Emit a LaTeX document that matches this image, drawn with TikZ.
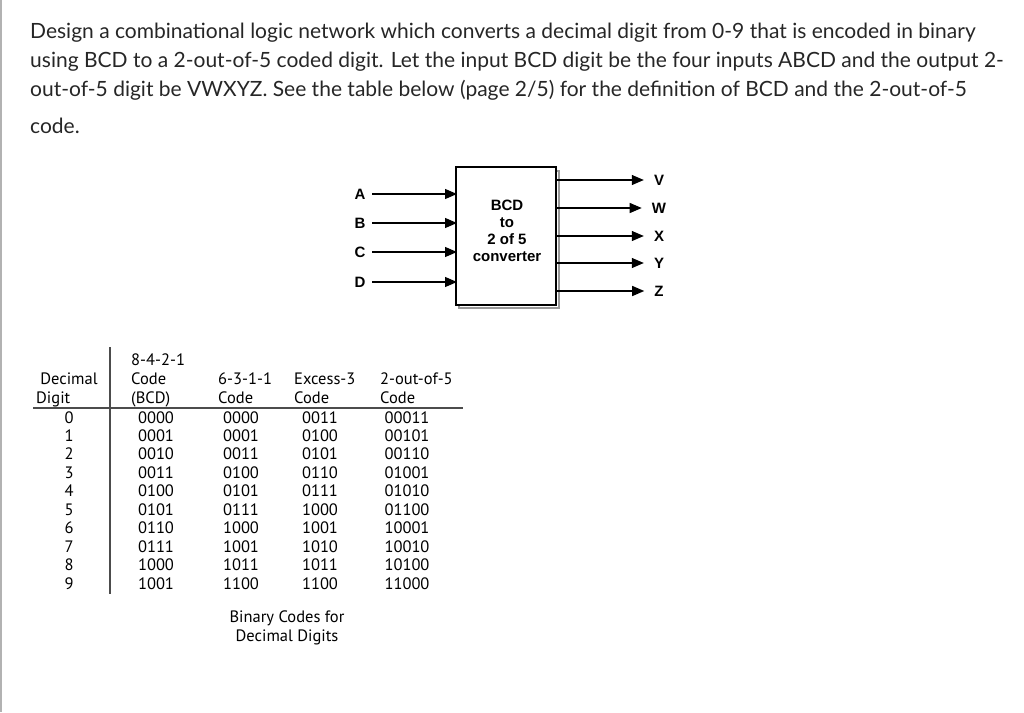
\documentclass[tikz,border=0pt]{standalone}
\usepackage{fontspec}
\setmainfont{Lato}
\newfontfamily\tabfont{PT Sans}
\newfontfamily\arial{Liberation Sans}
\usetikzlibrary{arrows.meta}
\begin{document}
\begin{tikzpicture}[x=1pt,y=-1pt,
  para/.style={anchor=base west,font=\fontsize{21}{24}\selectfont,text=black!85,inner sep=0},
  lab/.style={font=\arial\bfseries\fontsize{15}{17}\selectfont,inner sep=0},
  sig/.style={line width=1.2pt,-{Triangle[length=12pt,width=10pt]}},
  tb/.style={font=\tabfont\fontsize{16.5}{18}\selectfont,inner sep=0,anchor=base}]
\useasboundingbox (0,0) rectangle (1024,712);
\draw[gray!60,line width=1.5pt] (1,0) -- (1,712);
\node[para] (p1) at (30,38) {Design a combinational logic network which converts a decimal digit from 0-9 that is encoded in binary};
\node[para] (p2) at (30,67) {using BCD to a 2-out-of-5 coded digit. Let the input BCD digit be the four inputs ABCD and the output 2-};
\node[para] (p3) at (30,96) {out-of-5 digit be VWXYZ. See the table below (page 2/5) for the definition of BCD and the 2-out-of-5};
\node[para] (p4) at (30,133) {code.};
% converter
\draw[black!40,line width=2pt] (459,171) rectangle (559,308);
\node[draw,line width=1.2pt,fill=white,minimum width=100pt,minimum height=138pt,inner sep=0] (box) at (506,236) {};
\node[lab,align=center,font=\arial\bfseries\fontsize{15}{17}\selectfont] (bt) at (507,231) {BCD\\to\\2 of 5\\converter};
\foreach \n/\y in {A/194,B/223,C/252,D/282}{
  \node[lab] (\n) at (360,\y) {\n};
  \coordinate (\n e) at (457,\y);
  \draw[sig] (\n) ++(12,0) coordinate (\n s) -- (\n e);
}
\foreach \n/\y in {V/180,W/208,X/236,Y/263,Z/291}{
  \node[lab] (\n) at (659,\y) {\n};
  \coordinate (\n s) at (556,\y);
  \draw[sig] (\n s) -- ([xshift=-10pt]\n.west);
}
% table
\draw[line width=1.2pt,black!70] (110,347) -- (110,594);
\draw[line width=1.2pt,black!70] (33,408) -- (463,408);
\node[tb] (h1) at (69,384) {Decimal}; \node[tb,anchor=base west] at (36,403) {Digit};
\node[tb,anchor=base west] (h2) at (131,365) {8-4-2-1}; \node[tb,anchor=base west] at (131,384) {Code}; \node[tb,anchor=base west] at (131,403) {(BCD)};
\node[tb,anchor=base west] (h3) at (218,384) {6-3-1-1}; \node[tb,anchor=base west] at (218,403) {Code};
\node[tb,anchor=base west] (h4) at (294,384) {Excess-3}; \node[tb,anchor=base west] at (294,403) {Code};
\node[tb,anchor=base west] (h5) at (380,384) {2-out-of-5}; \node[tb,anchor=base west] at (380,403) {Code};
\foreach \d/\a/\b/\c/\e [count=\i from 0] in {0/0000/0000/0011/00011,1/0001/0001/0100/00101,2/0010/0011/0101/00110,3/0011/0100/0110/01001,4/0100/0101/0111/01010,5/0101/0111/1000/01100,6/0110/1000/1001/10001,7/0111/1001/1010/10010,8/1000/1011/1011/10100,9/1001/1100/1100/11000}{
  \pgfmathsetmacro\yy{423+18.45*\i}
  \node[tb] at (69,\yy) {\d};
  \node[tb] at (156,\yy) {\a};
  \node[tb] at (241,\yy) {\b};
  \node[tb] at (320,\yy) {\c};
  \node[tb] at (407,\yy) {\e};
}
\node[tb] (cap1) at (287,622) {Binary Codes for};
\node[tb] (cap2) at (287,641) {Decimal Digits};
\end{tikzpicture}
\end{document}
